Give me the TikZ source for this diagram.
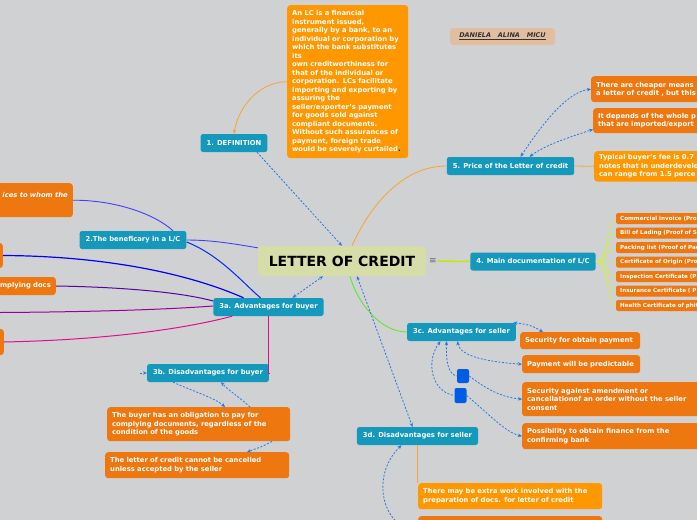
\documentclass[tikz,border=0pt]{standalone}
\usepackage{fontspec}
\setmainfont{DejaVu Sans}
\usetikzlibrary{positioning,arrows.meta,calc}
\definecolor{lcbg}{RGB}{208,209,211}
\definecolor{lcteal}{RGB}{20,152,188}
\definecolor{lcorange}{RGB}{238,119,16}
\definecolor{lclight}{RGB}{255,152,0}
\definecolor{lcroot}{RGB}{214,221,168}
\definecolor{lcdash}{RGB}{40,120,225}
\definecolor{lcline}{RGB}{245,165,50}
\definecolor{lclime}{RGB}{190,235,0}
\definecolor{lcleaf}{RGB}{210,235,90}
\definecolor{lcgreen}{RGB}{90,235,40}
\definecolor{lcname}{RGB}{226,190,160}

\tikzset{
  topic/.style={fill=lcteal,text=white,rounded corners=2.5pt,
    font=\bfseries\fontsize{6.8}{8.5}\selectfont,inner xsep=6pt,minimum height=18pt},
  note/.style={fill=lcorange,text=white,rounded corners=3pt,anchor=north west,
    font=\bfseries\fontsize{6.8}{8.5}\selectfont,align=left,inner xsep=5pt},
  softnote/.style={note,fill=lclight},
  docbox/.style={fill=lcorange,text=white,rounded corners=1.5pt,anchor=west,
    font=\bfseries\fontsize{5.6}{6.5}\selectfont,minimum height=11pt,
    text width=110pt,align=left,inner xsep=4pt,inner ysep=0pt},
  dlink/.style={lcdash,line width=0.8pt,dash pattern=on 2pt off 1.6pt},
}

\begin{document}
\begin{tikzpicture}[x=1pt,y=-1pt,>={Stealth[length=4pt,width=3.5pt]}]
  \useasboundingbox (0,0) rectangle (697,520);
  \fill[lcbg] (0,0) rectangle (697,520);
  \clip (0,0) rectangle (697,520);

  % centre and main topics
  \node[fill=lcroot,rounded corners=4pt,minimum width=168pt,minimum height=30pt,
    font=\bfseries\fontsize{14}{16}\selectfont] (root) at (342,261) {LETTER OF CREDIT};
  \node[text=black!60,font=\fontsize{9}{9}\selectfont,inner sep=1pt] (memo) at (433,261) {≡};
  \node[topic] (def) at (234,143) {1. DEFINITION};
  \node[topic] (benef) at (133,240) {2.The beneficary in a L/C};
  \node[topic] (advbuy) at (268.5,307) {3a. Advantages for buyer};
  \node[topic] (disbuy) at (208,373) {3b. Disadvantages for buyer};
  \node[topic] (advsel) at (461.5,332) {3c. Advantages for seller};
  \node[topic] (dissel) at (417.5,436) {3d. Disadvantages for seller};
  \node[topic] (docs) at (533,261.5) {4. Main documentation of L/C};
  \node[topic] (price) at (510.5,166) {5. Price of the Letter of credit};

  \node[fill=lcname,rounded corners=3pt,minimum width=105pt,minimum height=17pt,
    text=black!80,font=\bfseries\fontsize{6.5}{8}\selectfont] (author) at (502.5,36.5)
    {\underline{\itshape DANIELA\ \ \ ALINA\ \ \ MICU}};

  % 1. definition
  \node[softnote,text width=111pt,minimum height=153pt] (defbox) at (287,5)
    {An LC is a financial\\instrument issued,\\generally by a bank, to an\\
     individual or corporation by\\which the bank substitutes\\its\\
     own creditworthiness for\\that of the individual or\\corporation. LCs facilitate\\
     importing and exporting by\\assuring the\\seller/exporter's payment\\
     for goods sold against\\compliant documents.\\Without such assurances of\\
     payment, foreign trade\\would be severely curtailed{\color{black}.}};
  \draw[lcline,line width=0.8pt,->] (defbox.west) .. controls (258,82) and (238,108) .. (def.north);
  \draw[dlink,->] ([xshift=23pt]def.south) -- (root.north);

  % 2. beneficiary and left side
  \node[note,anchor=north east,text width=140pt,align=right,minimum height=34pt,
    font=\bfseries\itshape\fontsize{6.8}{8.5}\selectfont] (leftA) at (73,183)
    {ices to whom the\\\strut};
  \node[note,anchor=east,minimum width=40pt,minimum height=25pt] (leftB) at (3,255.5) {};
  \node[note,anchor=east,text width=70pt,align=right,minimum height=18pt] (leftC) at (56,286) {mplying docs};
  \coordinate (leftD) at (0,312.5);
  \node[note,anchor=east,minimum width=40pt,minimum height=26pt] (leftE) at (4,342) {};

  \draw[blue!75!white,line width=0.9pt] (leftA.east) .. controls (115,200) and (155,214) .. ([xshift=40pt]benef.north);
  \draw[blue!75!white,line width=0.9pt] (benef.east) .. controls (215,240) and (240,245) .. ([yshift=-2pt]root.north west);
  \draw[blue!85!cyan,line width=1pt] ([yshift=-2pt]benef.east) .. controls (220,255) and (245,285) .. ([xshift=-8pt]advbuy.north);
  \draw[blue,line width=1.2pt] (leftB.east) .. controls (100,256) and (185,272) .. ([xshift=-25pt]advbuy.north);
  \draw[violet!70!blue,line width=1pt] (leftC.east) .. controls (120,287) and (180,292) .. ([yshift=6pt]advbuy.west);
  \draw[violet!80!magenta,line width=1pt] (leftD) .. controls (80,312) and (160,310) .. ([yshift=1pt]advbuy.west);
  \draw[magenta!90!violet,line width=1pt] (leftE.east) .. controls (100,340) and (180,330) .. ([xshift=19pt]advbuy.south west);

  % 3a / 3b buyer
  \draw[dlink,<->] ([xshift=24pt]advbuy.north) -- ([xshift=-19pt]root.south);
  \draw[magenta!90!violet,line width=1pt] (advbuy.south) |- (disbuy.east);
  \node[note,text width=173pt,minimum height=34pt] (buy1) at (107,407)
    {The buyer has an obligation to pay for\\complying documents, regardless of the\\condition of the goods};
  \node[note,text width=174pt,minimum height=26pt] (buy2) at (105,452)
    {The letter of credit cannot be cancelled\\unless accepted by the seller};
  \coordinate (stub) at (140,373);
  \draw[dlink,->] (stub) -- (disbuy.west);
  \draw[dlink,->] ([xshift=-35pt]disbuy.south) .. controls (195,392) and (215,398) .. ([xshift=118pt]buy1.north west);
  \draw[dlink,->] ([xshift=143pt]buy1.north west) .. controls (238,396) and (228,390) .. ([xshift=13pt]disbuy.south);
  \draw[dlink,->] ([xshift=165pt]buy1.south west) .. controls (262,447) and (255,449) .. ([xshift=142pt]buy2.north west);

  % 3c seller
  \draw[lcgreen,line width=0.9pt] ([xshift=8pt]root.south) .. controls (357,302) and (380,332) .. (advsel.west);
  \node[note,text width=110pt,minimum height=17pt] (sel1) at (520,332) {Security for obtain payment};
  \node[note,text width=108pt,minimum height=18pt] (sel2) at (522,355) {Payment will be predictable};
  \node[note,text width=185pt,minimum height=34pt] (sel3) at (522,382)
    {Security against amendment or\\cancellationof an order without the seller\\consent};
  \node[note,text width=185pt,minimum height=26pt] (sel4) at (522,423)
    {Possibility to obtain finance from the\\confirming bank};
  \node[fill=blue!60!cyan!90!black,rounded corners=2pt,minimum width=12pt,minimum height=14pt,inner sep=0pt] (sq1) at (463,376) {};
  \node[fill=blue!60!cyan!90!black,rounded corners=2pt,minimum width=12pt,minimum height=15pt,inner sep=0pt] (sq2) at (460.5,395.5) {};

  \draw[dlink,<->] ([xshift=-3pt]advsel.north east) .. controls (528,324) and (535,327) .. ([xshift=23pt]sel1.north west);
  \draw[dlink,<->] ([xshift=-4pt]advsel.south) .. controls (460,357) and (490,362) .. (sel2.west);
  \draw[dlink,<-] ([xshift=-15pt]advsel.south) .. controls (446,362) and (448,374) .. (sq1.west);
  \draw[dlink,->] (sq1.east) .. controls (485,388) and (500,397) .. (sel3.west);
  \draw[dlink,<-] ([xshift=-21pt]advsel.south) .. controls (425,362) and (432,392) .. (sq2.west);
  \draw[dlink,->] (sq2.east) .. controls (490,415) and (505,432) .. (sel4.west);

  % 3d seller
  \draw[dlink,<->] ([xshift=15pt]root.south) -- ([xshift=-5pt]dissel.north);
  \node[softnote,text width=174pt,minimum height=26pt] (extra1) at (418,483)
    {There may be extra work involved with the\\preparation of docs. for letter of credit};
  \node[note,text width=174pt,minimum height=26pt] (extra2) at (418,516) {};
  \draw[lcline,line width=0.8pt] (dissel.south) -- (dissel.south |- extra1.north);
  \draw[dlink,->] (extra2.west) .. controls (385,532) and (368,478) .. ([xshift=-16pt]dissel.south);

  % 4. documentation
  \draw[lclime,line width=1.5pt] (memo.east) -- (docs.west);
  \foreach \t [count=\i] in {Commercial invoice (Pro, Bill of Lading (Proof of S,
      Packing list (Proof of Pac, Certificate of Origin (Pro, Inspection Certificate (P,
      Insurance Certificate ( P, Health Certificate of phit}{
    \pgfmathsetmacro\yy{218.5+14.5*(\i-1)}
    \node[docbox] (doc\i) at (616,\yy) {\t};
    \draw[lcleaf,line width=0.8pt] (docs.east) .. controls (609,261.5) and (606,\yy) .. (doc\i.west);
  }

  % 5. price
  \draw[lcline,line width=0.8pt] ([xshift=10pt]root.north) .. controls (368,210) and (400,166) .. (price.west);
  \node[note,text width=120pt,minimum height=26pt] (top1) at (591,76)
    {There are cheaper means\\a letter of credit , but this};
  \node[note,text width=120pt,minimum height=25pt] (top2) at (593,108)
    {It depends of the whole p\\that are imported/export};
  \node[softnote,text width=120pt,minimum height=30pt] (fee) at (594,151)
    {Typical buyer`s fee is 0.7\\notes that in underdevelo\\can range from 1.5 perce};
  \draw[lcline,line width=0.8pt] (price.east) -- (fee.west);
  \draw[dlink,<->] ([xshift=10pt]price.north) .. controls (545,120) and (568,92) .. (top1.west);
  \draw[dlink,<->] ([xshift=19pt]price.north) .. controls (545,145) and (570,137) .. ([yshift=4pt]top2.south west);
\end{tikzpicture}
\end{document}
